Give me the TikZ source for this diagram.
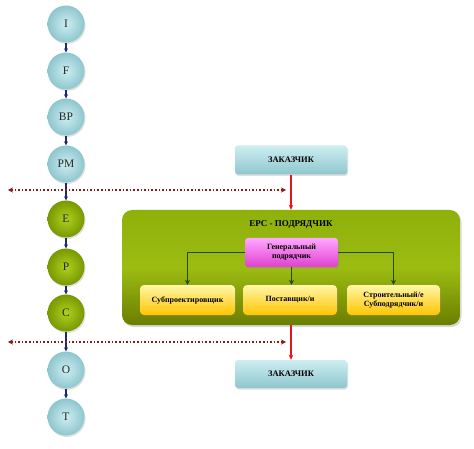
\documentclass[tikz,border=0pt]{standalone}
\usepackage{fontspec}
\setmainfont{Liberation Serif}
\usetikzlibrary{shadows,arrows.meta}
\definecolor{tealin}{HTML}{CDEEF1}
\definecolor{tealout}{HTML}{8EC6CE}
\definecolor{grin}{HTML}{B0D020}
\definecolor{grout}{HTML}{789800}
\definecolor{navy}{HTML}{1F2A6E}
\definecolor{dotred}{HTML}{8B1A1A}
\definecolor{arrred}{HTML}{E8141C}
\definecolor{dkgreen}{HTML}{1E4A10}
\definecolor{bgtop}{HTML}{8FB00A}
\definecolor{bgbot}{HTML}{6A7E00}
\definecolor{bgmid}{HTML}{9CBC12}
\definecolor{pktop}{HTML}{FFA8FF}
\definecolor{pkbot}{HTML}{E040D0}
\definecolor{yltop}{HTML}{FFF7A8}
\definecolor{ylbot}{HTML}{FFC400}
\tikzset{
  phase/.style={circle,minimum size=37pt,inner sep=0pt,font=\fontsize{11.5}{13}\selectfont,text=black!85,
    drop shadow={opacity=0.25,shadow xshift=1pt,shadow yshift=-1.5pt}},
  bluephase/.style={phase,shade,inner color=tealin,outer color=tealout},
  greenphase/.style={phase,shade,inner color=grin,outer color=grout},
  flow/.style={draw=navy,line width=1.2pt,-{Stealth[length=4pt,width=4pt]}},
  cutline/.style={draw=dotred,line width=1.6pt,dotted,{Stealth[length=5pt,width=5pt]}-{Stealth[length=5pt,width=5pt]}},
  client/.style={rounded corners=3pt,minimum width=112pt,minimum height=29pt,inner sep=1pt,
    top color=tealin,bottom color=tealout,font=\bfseries\fontsize{8.5}{10}\selectfont,
    drop shadow={opacity=0.25,shadow xshift=1pt,shadow yshift=-1.5pt}},
  redarrow/.style={draw=arrred,line width=1.3pt,-{Stealth[length=5pt,width=4.5pt]}},
  bigbox/.style={rounded corners=10pt,minimum width=338pt,minimum height=115pt,
    top color=bgtop,bottom color=bgbot,middle color=bgmid,
    drop shadow={opacity=0.3,shadow xshift=1.5pt,shadow yshift=-2pt}},
  gcbox/.style={rounded corners=3pt,minimum width=93pt,minimum height=29pt,inner sep=1pt,align=center,
    top color=pktop,bottom color=pkbot,font=\bfseries\fontsize{8}{9}\selectfont,
    drop shadow={opacity=0.3,shadow xshift=1pt,shadow yshift=-1.5pt}},
  subbox/.style={rounded corners=4pt,minimum height=30pt,inner sep=1pt,align=center,
    top color=yltop,bottom color=ylbot,font=\bfseries\fontsize{8}{9}\selectfont,
    drop shadow={opacity=0.3,shadow xshift=1pt,shadow yshift=-1.5pt}},
  tree/.style={draw=dkgreen,line width=1.6pt,-{Stealth[length=5pt,width=5pt]}},
}
\begin{document}
\begin{tikzpicture}[x=1pt,y=-1pt]
\useasboundingbox[fill=white] (0,0) rectangle (474,449);
% phase circles
\node[bluephase] (I) at (66,24) {I};
\node[bluephase] (F) at (66,71) {F};
\node[bluephase] (BP) at (66,117) {BP};
\node[bluephase] (PM) at (66,164) {PM};
\node[greenphase] (E) at (66,219) {E};
\node[greenphase] (P) at (66,267) {P};
\node[greenphase] (C) at (66,313) {C};
\node[bluephase] (O) at (66,370) {O};
\node[bluephase] (T) at (66,417) {T};
\draw[flow] (I) -- (F);
\draw[flow] (F) -- (BP);
\draw[flow] (BP) -- (PM);
\draw[flow] (PM) -- (E);
\draw[flow] (E) -- (P);
\draw[flow] (P) -- (C);
\draw[flow] (C) -- (O);
\draw[flow] (O) -- (T);
% dotted boundaries
\coordinate (d1l) at (8,190);
\coordinate (d1r) at (286,190);
\coordinate (d2l) at (8,342);
\coordinate (d2r) at (286,342);
\draw[cutline] (d1l) -- (d1r);
\draw[cutline] (d2l) -- (d2r);
% right side
\node[client] (Z1) at (291,160) {ЗАКАЗЧИК};
\node[bigbox] (EPC) at (291,267.5) {};
\node[font=\bfseries\fontsize{9}{10}\selectfont] (EPCt) at (291,224) {EPC - ПОДРЯДЧИК};
\node[gcbox] (GC) at (291.5,252.5) {Генеральный\\подрядчик};
\node[subbox,minimum width=95pt] (S1) at (187.5,300) {Субпроектировщик};
\node[subbox,minimum width=94pt] (S2) at (290,300) {Поставщик/и};
\node[subbox,minimum width=93pt] (S3) at (393.5,300) {Строительный/е\\Субподрядчик/и};
\node[client,minimum height=28pt] (Z2) at (291,374) {ЗАКАЗЧИК};
\draw[redarrow] (Z1.south) -- (EPC.north);
\draw[redarrow] (EPC.south) -- (Z2.north);
\draw[tree] (GC.west) -| (S1.north);
\draw[tree] (GC.south) -- (GC.south |- S2.north);
\draw[tree] (GC.east) -| (S3.north);
\end{tikzpicture}
\end{document}
